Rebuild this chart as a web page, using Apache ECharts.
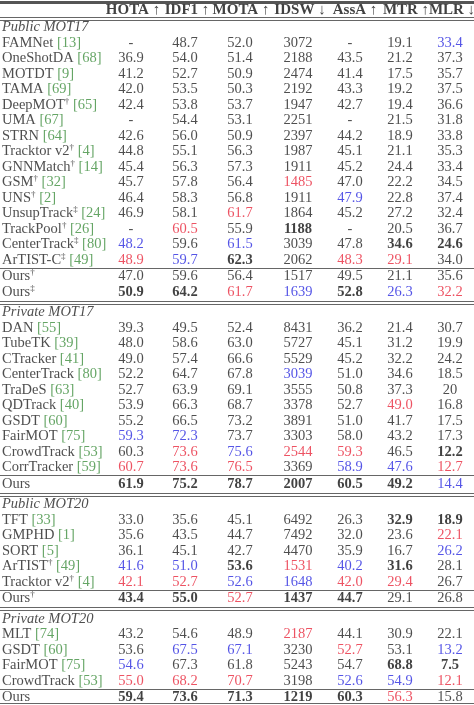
<!DOCTYPE html>
<html><head><meta charset="utf-8">
<script src="https://cdn.jsdelivr.net/npm/echarts@6/dist/echarts.min.js"></script>
<style>html,body{margin:0;padding:0;background:#fff}#main{width:474px;height:705px}</style>
</head><body><div id="main"></div>
<script>
// column headers
const headers = ['HOTA ↑', 'IDF1 ↑', 'MOTA ↑', 'IDSW ↓', 'AssA ↑', 'MTR ↑', 'MLR ↓'];
const sections = ['Public MOT17', 'Private MOT17', 'Public MOT20', 'Private MOT20'];
// rows: [name, sup, cite]; values; style codes k=plain r=red b=blue B=bold
const pub17Names = [['FAMNet','','13'],['OneShotDA','','68'],['MOTDT','','9'],['TAMA','','69'],['DeepMOT','†','65'],['UMA','','67'],['STRN','','64'],['Tracktor v2','†','4'],['GNNMatch','†','14'],['GSM','†','32'],['UNS','†','2'],['UnsupTrack','‡','24'],['TrackPool','†','26'],['CenterTrack','‡','80'],['ArTIST-C','‡','49'],['Ours','†',''],['Ours','‡','']];
const pub17Vals = [
 ['-','48.7','52.0','3072','-','19.1','33.4'],
 ['36.9','54.0','51.4','2188','43.5','21.2','37.3'],
 ['41.2','52.7','50.9','2474','41.4','17.5','35.7'],
 ['42.0','53.5','50.3','2192','43.3','19.2','37.5'],
 ['42.4','53.8','53.7','1947','42.7','19.4','36.6'],
 ['-','54.4','53.1','2251','-','21.5','31.8'],
 ['42.6','56.0','50.9','2397','44.2','18.9','33.8'],
 ['44.8','55.1','56.3','1987','45.1','21.1','35.3'],
 ['45.4','56.3','57.3','1911','45.2','24.4','33.4'],
 ['45.7','57.8','56.4','1485','47.0','22.2','34.5'],
 ['46.4','58.3','56.8','1911','47.9','22.8','37.4'],
 ['46.9','58.1','61.7','1864','45.2','27.2','32.4'],
 ['-','60.5','55.9','1188','-','20.5','36.7'],
 ['48.2','59.6','61.5','3039','47.8','34.6','24.6'],
 ['48.9','59.7','62.3','2062','48.3','29.1','34.0'],
 ['47.0','59.6','56.4','1517','49.5','21.1','35.6'],
 ['50.9','64.2','61.7','1639','52.8','26.3','32.2']];
const pub17Sty = ['kkkkkkb','kkkkkkk','kkkkkkk','kkkkkkk','kkkkkkk','kkkkkkk','kkkkkkk','kkkkkkk','kkkkkkk','kkkrkkk','kkkkbkk','kkrkkkk','krkBkkk','bkbkkBB','rbBkrrk','kkkkkkk','BBrbBbr'];

const priv17Names = [['DAN','','55'],['TubeTK','','39'],['CTracker','','41'],['CenterTrack','','80'],['TraDeS','','63'],['QDTrack','','40'],['GSDT','','60'],['FairMOT','','75'],['CrowdTrack','','53'],['CorrTracker','','59'],['Ours','','']];
const priv17Vals = [
 ['39.3','49.5','52.4','8431','36.2','21.4','30.7'],
 ['48.0','58.6','63.0','5727','45.1','31.2','19.9'],
 ['49.0','57.4','66.6','5529','45.2','32.2','24.2'],
 ['52.2','64.7','67.8','3039','51.0','34.6','18.5'],
 ['52.7','63.9','69.1','3555','50.8','37.3','20'],
 ['53.9','66.3','68.7','3378','52.7','49.0','16.8'],
 ['55.2','66.5','73.2','3891','51.0','41.7','17.5'],
 ['59.3','72.3','73.7','3303','58.0','43.2','17.3'],
 ['60.3','73.6','75.6','2544','59.3','46.5','12.2'],
 ['60.7','73.6','76.5','3369','58.9','47.6','12.7'],
 ['61.9','75.2','78.7','2007','60.5','49.2','14.4']];
const priv17Sty = ['kkkkkkk','kkkkkkk','kkkkkkk','kkkbkkk','kkkkkkk','kkkkkrk','kkkkkkk','bbkkkkk','krbrrkB','rrrkbbr','BBBBBBb'];

const pub20Names = [['TFT','','33'],['GMPHD','','1'],['SORT','','5'],['ArTIST','†','49'],['Tracktor v2','†','4'],['Ours','†','']];
const pub20Vals = [
 ['33.0','35.6','45.1','6492','26.3','32.9','18.9'],
 ['35.6','43.5','44.7','7492','32.0','23.6','22.1'],
 ['36.1','45.1','42.7','4470','35.9','16.7','26.2'],
 ['41.6','51.0','53.6','1531','40.2','31.6','28.1'],
 ['42.1','52.7','52.6','1648','42.0','29.4','26.7'],
 ['43.4','55.0','52.7','1437','44.7','29.1','26.8']];
const pub20Sty = ['kkkkkBB','kkkkkkr','kkkkkkb','bbBrbBk','rrbbrrk','BBrBBkk'];

const priv20Names = [['MLT','','74'],['GSDT','','60'],['FairMOT','','75'],['CrowdTrack','','53'],['Ours','','']];
const priv20Vals = [
 ['43.2','54.6','48.9','2187','44.1','30.9','22.1'],
 ['53.6','67.5','67.1','3230','52.7','53.1','13.2'],
 ['54.6','67.3','61.8','5243','54.7','68.8','7.5'],
 ['55.0','68.2','70.7','3198','52.6','54.9','12.1'],
 ['59.4','73.6','71.3','1219','60.3','56.3','15.8']];
const priv20Sty = ['kkkrkkk','kbbkrkb','bkkkkBB','rrrkbbr','BBBBBrk'];

const colX = [131, 185, 240, 298, 350, 400, 450];
const headX = [133, 187, 241, 300, 355, 406, 452];
const colors = { k: '#222', r: '#e8283c', b: '#2b2be0', B: '#111' };
const FONT = 'Liberation Serif';

const groups = [
  [sections[0], pub17Names, pub17Vals, pub17Sty],
  [sections[1], priv17Names, priv17Vals, priv17Sty],
  [sections[2], pub20Names, pub20Vals, pub20Sty],
  [sections[3], priv20Names, priv20Vals, priv20Sty]
];

let pts = [], rules = [], idx = 0, oursGaps = 0, secGaps = 0;
const rowY = () => 27.5 + idx * 15.5 + oursGaps * 1 + secGaps * 5;
groups.forEach((g, gi) => {
  if (gi > 0) { secGaps++; let y = rowY() - 10; rules.push(y - 1.5, y + 1.5); }
  pts.push({ value: [2, rowY()], label: { position: 'right', distance: 0, color: '#222', formatter: '{i|' + g[0] + '}' } });
  idx++;
  g[1].forEach((n, ri) => {
    if (n[0] === 'Ours' && (ri === 0 || g[1][ri - 1][0] !== 'Ours')) { oursGaps++; rules.push(rowY() - 8.5); }
    let y = rowY();
    let txt = '{n|' + n[0] + '}' + (n[1] ? '{s|' + n[1] + '}' : '') + (n[2] ? '{n| }{c|[' + n[2] + ']}' : '');
    pts.push({ value: [2, y], label: { position: 'right', distance: 0, color: '#222', formatter: txt } });
    g[2][ri].forEach((v, ci) => {
      let s = g[3][ri][ci];
      pts.push({ value: [colX[ci], y], label: { position: 'inside', formatter: v, color: colors[s], fontWeight: s === 'B' ? 'bold' : 'normal' } });
    });
    idx++;
  });
});
headers.forEach((h, i) => pts.push({ value: [headX[i], 10], label: { position: 'inside', formatter: h, fontWeight: 'bold', fontSize: 15, color: '#111' } }));
rules.push(17, 20, 703.5);

const chart = echarts.init(document.getElementById('main'));
chart.setOption({
  animation: false,
  grid: { left: 0, right: 0, top: 0, bottom: 0 },
  xAxis: { type: 'value', min: 0, max: 474, show: false },
  yAxis: { type: 'value', min: 0, max: 705, inverse: true, show: false },
  series: [{
    type: 'scatter', symbolSize: 0, silent: true, data: pts,
    label: {
      show: true, fontFamily: FONT, fontSize: 14.5, color: '#222',
      rich: {
        n: { fontFamily: FONT, fontSize: 14.5, color: '#222' },
        s: { fontFamily: FONT, fontSize: 9, color: '#222', padding: [0, 0, 7, 0] },
        c: { fontFamily: FONT, fontSize: 14.5, color: '#3f8f3f' },
        i: { fontFamily: FONT, fontSize: 14.5, color: '#222', fontStyle: 'italic' }
      }
    },
    markLine: {
      silent: true, symbol: 'none', label: { show: false },
      lineStyle: { color: '#666', width: 1, type: 'solid' },
      data: rules.map(v => ({ yAxis: v })).concat([{ yAxis: 2, lineStyle: { width: 3, color: '#555' } }])
    }
  }]
});
</script></body></html>
